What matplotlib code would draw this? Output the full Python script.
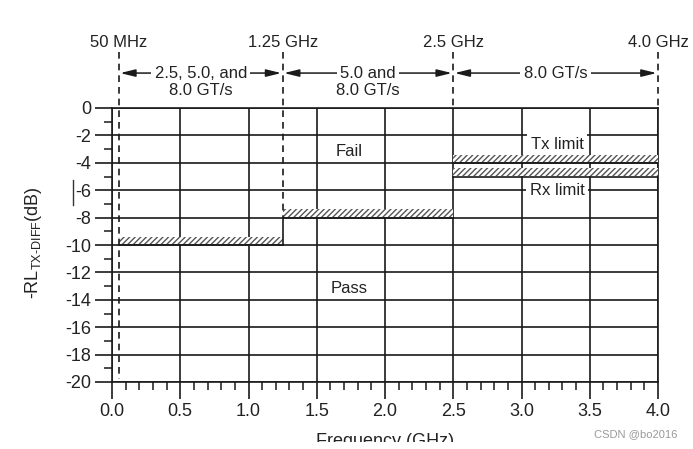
import matplotlib
matplotlib.use("Agg")
import matplotlib.pyplot as plt
from matplotlib.patches import Rectangle
from matplotlib.lines import Line2D
from matplotlib.ticker import MultipleLocator

plt.rcParams['font.family'] = ['Liberation Sans', 'DejaVu Sans']
plt.rcParams['hatch.linewidth'] = 1.0
plt.rcParams['mathtext.fontset'] = 'custom'
plt.rcParams['mathtext.rm'] = 'Liberation Sans'

# ---- data ----
freq_ticks = [0.0, 0.5, 1.0, 1.5, 2.0, 2.5, 3.0, 3.5, 4.0]
freq_tick_labels = ['0.0', '0.5', '1.0', '1.5', '2.0', '2.5', '3.0', '3.5', '4.0']
db_ticks = [0, -2, -4, -6, -8, -10, -12, -14, -16, -18, -20]

boundary_ghz = [0.05, 1.25, 2.5, 4.0]
boundary_labels = ['50 MHz', '1.25 GHz', '2.5 GHz', '4.0 GHz']

span_start = [0.05, 1.25, 2.5]
span_end = [1.25, 2.5, 4.0]
span_line1 = ['2.5, 5.0, and', '5.0 and', '8.0 GT/s']
span_line2 = ['8.0 GT/s', '8.0 GT/s', '']

seg_start = [0.05, 1.25, 2.5, 2.5]
seg_end = [1.25, 2.5, 4.0, 4.0]
seg_limit_db = [-10, -8, -4, -5]

# ---- figure ----
fig = plt.figure(figsize=(6.93, 4.49), dpi=100)
ax = fig.add_axes([112/693, 1-382/449, 546/693, 274/449])
ax.set_xlim(0, 4.0)
ax.set_ylim(-20, 0)

ink = '#1a1a1a'
ax.set_xticks(freq_ticks)
ax.set_xticklabels(freq_tick_labels)
ax.set_yticks(db_ticks)
ax.set_yticklabels([str(v) for v in db_ticks])
ax.xaxis.set_minor_locator(MultipleLocator(0.1))
ax.yaxis.set_minor_locator(MultipleLocator(1))
ax.tick_params(which='major', direction='out', length=12, width=1.2, color=ink,
               labelsize=13, labelcolor='#222222', pad=3)
ax.tick_params(which='minor', direction='out', length=6, width=1.1, color=ink)
ax.grid(True, which='major', color=ink, lw=1.2)
for s in ax.spines.values():
    s.set_color(ink)
    s.set_linewidth(1.2)
ax.set_axisbelow(False)

# hatched limit bands
band_h = 0.55
for x0, x1, lim in zip(seg_start, seg_end, seg_limit_db):
    ax.add_patch(Rectangle((x0, lim + 0.05), x1 - x0, band_h, facecolor='white',
                           edgecolor='#555555', lw=0, hatch='//////', zorder=3))
# limit lines
for x0, x1, lim in zip(seg_start, seg_end, seg_limit_db):
    ax.plot([x0, x1], [lim, lim], color=ink, lw=1.2, zorder=4)
# step at 1.25 GHz
ax.plot([seg_start[1], seg_start[1]], [seg_limit_db[0], seg_limit_db[1]], color=ink, lw=1.2, zorder=4)

# dashed boundaries
dash = (0, (4, 3))
dash_top = 4.1
dash_bottom = [-19.8, seg_limit_db[1], 0, 0]
for xb, yb in zip(boundary_ghz, dash_bottom):
    ax.plot([xb, xb], [dash_top, yb], color=ink, lw=1.2, ls=dash, clip_on=False, zorder=5)
for xb, lab in zip(boundary_ghz, boundary_labels):
    ax.text(xb, 4.75, lab, ha='center', va='center', fontsize=12, color='#222222', clip_on=False)

# arrows and span texts
y_arrow = 2.55
for x0, x1, t1, t2 in zip(span_start, span_end, span_line1, span_line2):
    xm = (x0 + x1) / 2
    for xe in (x0, x1):
        ax.annotate('', xy=(xe, y_arrow), xytext=(xm, y_arrow), annotation_clip=False,
                    arrowprops=dict(arrowstyle='-|>,head_length=0.9,head_width=0.22',
                                    color=ink, lw=1.1, shrinkA=0, shrinkB=1))
    ax.text(xm, y_arrow, t1, ha='center', va='center', fontsize=12, color='#222222',
            bbox=dict(facecolor='white', edgecolor='none', pad=2.5), zorder=6, clip_on=False)
    if t2:
        ax.text(xm, 1.25, t2, ha='center', va='center', fontsize=12, color='#222222',
                zorder=7, clip_on=False)

# region labels
ax.text(1.74, -3.15, 'Fail', ha='center', va='center', fontsize=12, color='#222222', zorder=6)
ax.text(1.74, -13.2, 'Pass', ha='center', va='center', fontsize=12, color='#222222', zorder=6)
ax.text(3.26, -2.65, 'Tx limit', ha='center', va='center', fontsize=12, color='#222222', zorder=6,
        bbox=dict(facecolor='white', edgecolor='none', pad=2.5))
ax.text(3.26, -6.05, 'Rx limit', ha='center', va='center', fontsize=12, color='#222222', zorder=6,
        bbox=dict(facecolor='white', edgecolor='none', pad=2.5))

# axis labels
fig.text(34/693, 1-243/449, r'-RL$_{\mathregular{TX\text{-}DIFF}}$(dB)', rotation=90,
         ha='center', va='center', fontsize=13, color='#222222')
fig.text(385/693, 1-446/449, 'Frequency (GHz)', ha='center', va='baseline', fontsize=13, color='#222222')
# the source image is cropped just below the top of the x-axis title
fig.add_artist(Rectangle((0, 0), 1, 7/449, transform=fig.transFigure, facecolor='white',
                         edgecolor='none', zorder=10))
fig.add_artist(Line2D([73/693, 73/693], [1-180/449, 1-205/449], color='#333333', lw=1))

fig.text(636/693, 1-434/449, 'CSDN @bo2016', ha='center', va='center', fontsize=8, color='#999999',
         zorder=11)

fig.savefig('out.png', dpi=100, facecolor='white')
